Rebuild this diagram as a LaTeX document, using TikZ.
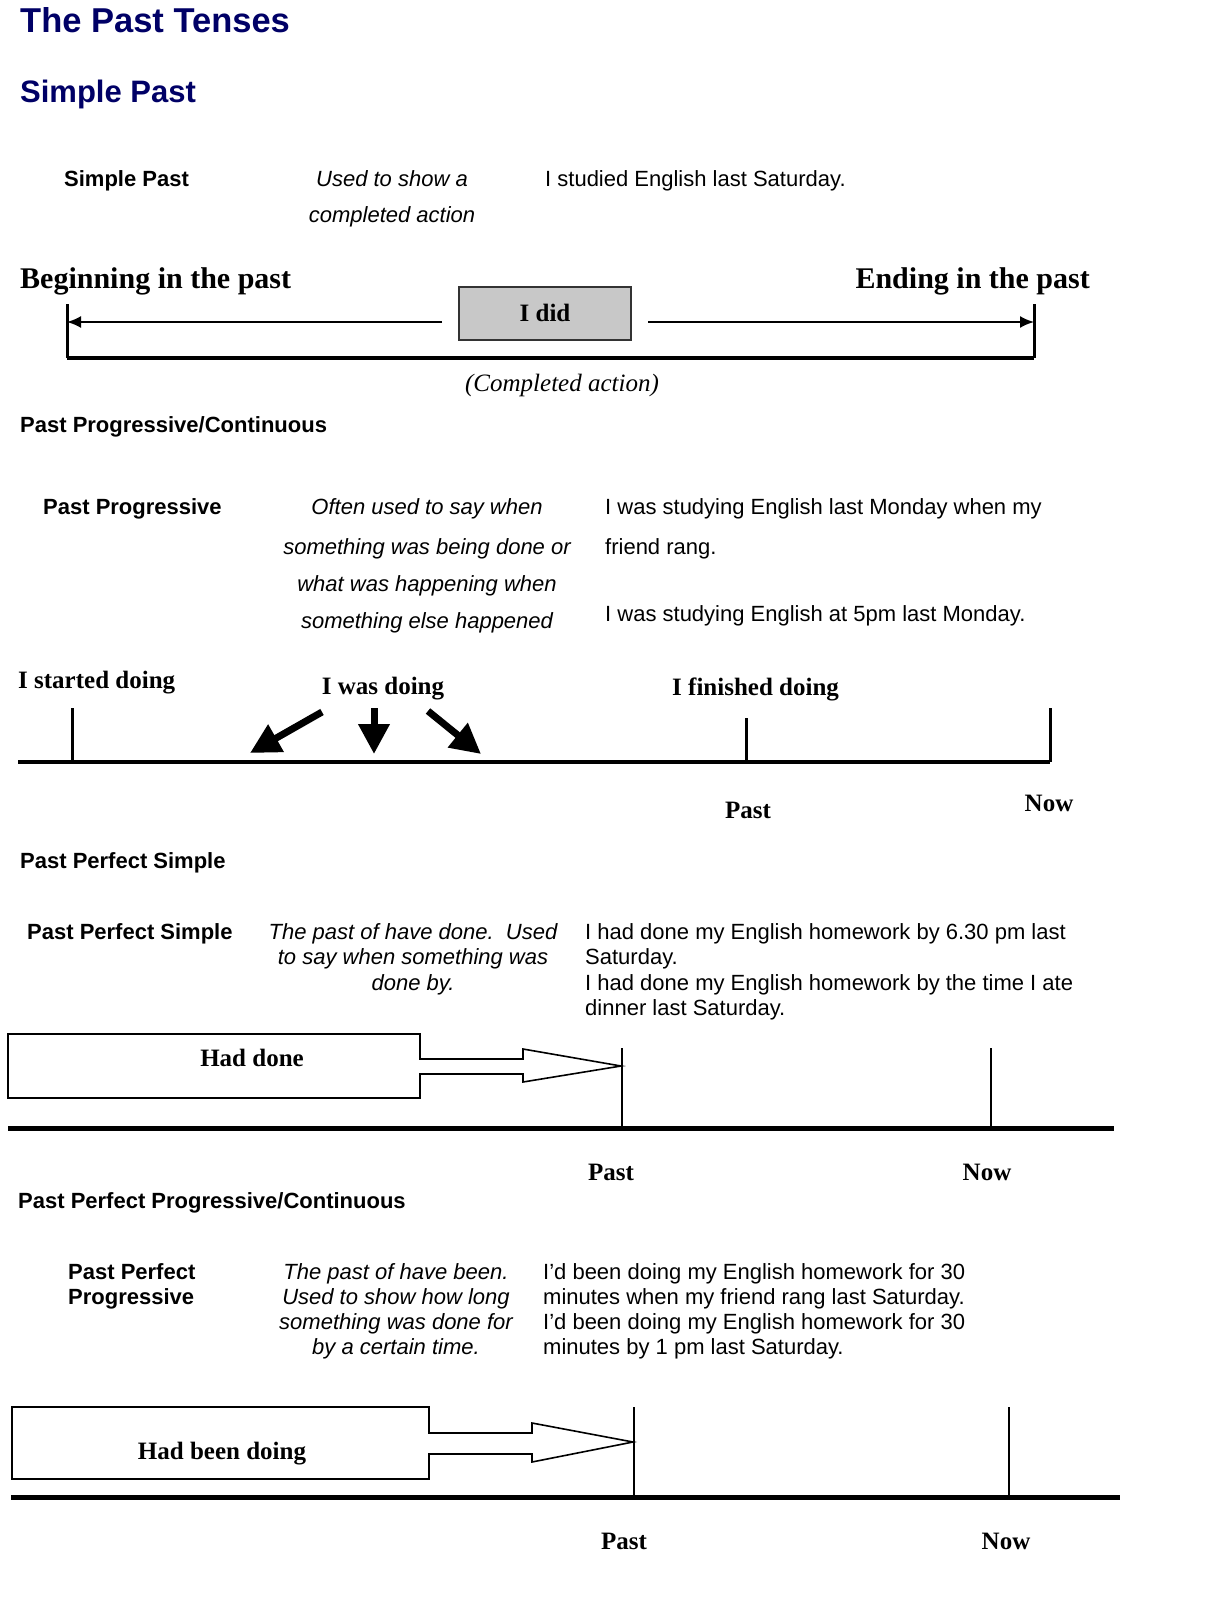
\documentclass[tikz,border=0pt]{standalone}
\usepackage{fontspec}
\setmainfont{Liberation Sans}
\newfontfamily\tlfont{Liberation Serif}
\usetikzlibrary{arrows.meta}
\definecolor{navy}{RGB}{0,0,102}
\definecolor{boxgray}{RGB}{200,200,200}
\tikzset{
  h1/.style={anchor=base west,inner sep=0,text=navy,font=\fontsize{34.5}{40}\selectfont\bfseries},
  h2/.style={anchor=base west,inner sep=0,text=navy,font=\fontsize{31}{36}\selectfont\bfseries},
  h3/.style={anchor=base west,inner sep=0,font=\fontsize{22}{26}\selectfont\bfseries},
  term/.style={anchor=base west,inner sep=0,font=\fontsize{22}{25}\selectfont\bfseries,align=left},
  usetxt/.style={anchor=base,inner sep=0,font=\fontsize{22}{26}\selectfont\itshape},
  extxt/.style={anchor=base west,inner sep=0,font=\fontsize{22}{26}\selectfont},
  tlbig/.style={anchor=base west,inner sep=0,font=\fontsize{30}{34}\tlfont\bfseries},
  tl/.style={anchor=base,inner sep=0,font=\fontsize{25}{30}\tlfont\bfseries},
  tlw/.style={anchor=base west,inner sep=0,font=\fontsize{25}{30}\tlfont\bfseries},
  thinarrow/.style={line width=2pt,-{Latex[length=14pt,width=12pt]}},
  bigarrow/.style={line width=7pt,-{Triangle[length=30pt,width=30pt]}},
  bar/.style={line width=3pt},
  axis/.style={line width=4pt},
  blockarrow/.style={draw,line width=1.6pt,fill=white},
}
\begin{document}
\begin{tikzpicture}[x=1pt,y=-1pt]
\useasboundingbox (0,0) rectangle (1207,1600);

% Headings
\node[h1] (title) at (20,33) {The Past Tenses};
\node[h2] (hsp) at (20,103) {Simple Past};

% Row 1
\node[term] (t1) at (64,186) {Simple Past};
\node[usetxt] (u1a) at (392,186) {Used to show a};
\node[usetxt] (u1b) at (392,222) {completed action};
\node[extxt] (e1) at (545,186) {I studied English last Saturday.};

% Diagram 1
\node[tlbig] (beg) at (20,288) {Beginning in the past};
\node[tlbig,anchor=base east] (end) at (1090,288) {Ending in the past};
\node[draw=black!80,line width=2pt,fill=boxgray,minimum width=172pt,minimum height=53pt,inner sep=0] (idid) at (545,313) {};
\node[tl] (ididt) at (545,321) {I did};
\coordinate (l1top) at (67,304);
\coordinate (l1bot) at (67,358);
\coordinate (r1top) at (1034,304);
\coordinate (r1bot) at (1034,358);
\coordinate (l1mid) at (67,322);
\coordinate (r1mid) at (1034,322);
\draw[bar] (l1top) -- (l1bot);
\draw[bar] (r1top) -- (r1bot);
\draw[axis] (l1bot) -- (r1bot);
\draw[thinarrow] ([xshift=-16pt]idid.west |- l1mid) -- (l1mid);
\draw[thinarrow] ([xshift=16pt]idid.east |- r1mid) -- (r1mid);
\node[anchor=base,inner sep=0,font=\fontsize{25}{30}\tlfont\itshape] (comp) at (562,391) {(Completed action)};

% Section 2
\node[h3] (hpp) at (20,432) {Past Progressive/Continuous};
\node[term] (t2) at (43,514) {Past Progressive};
\node[usetxt] (u2a) at (427,514) {Often used to say when};
\node[usetxt] (u2b) at (427,554) {something was being done or};
\node[usetxt] (u2c) at (427,591) {what was happening when};
\node[usetxt] (u2d) at (427,628) {something else happened};
\node[extxt] (e2a) at (605,514) {I was studying English last Monday when my};
\node[extxt] (e2b) at (605,554) {friend rang.};
\node[extxt] (e2c) at (605,621) {I was studying English at 5pm last Monday.};

% Diagram 2
\node[tlw] (start) at (18,688) {I started doing};
\node[tl] (wasdo) at (383,694) {I was doing};
\node[tlw] (fin) at (672,695) {I finished doing};
\coordinate (a2L) at (18,762);
\coordinate (a2R) at (1050,762);
\coordinate (k1t) at (72,708);
\coordinate (k1b) at (72,762);
\coordinate (k2t) at (746,718);
\coordinate (k2b) at (746,762);
\coordinate (k3t) at (1050,708);
\draw[axis] (a2L) -- (a2R);
\draw[bar] (k1t) -- (k1b);
\draw[bar] (k2t) -- (k2b);
\draw[bar] (k3t) -- (a2R);
\coordinate (d1s) at (322,712); \coordinate (d1e) at (250,753);
\coordinate (d2s) at (374,708); \coordinate (d2e) at (374,754);
\coordinate (d3s) at (428,711); \coordinate (d3e) at (481,754);
\draw[bigarrow] (d1s) -- (d1e);
\draw[bigarrow] (d2s) -- (d2e);
\draw[bigarrow] (d3s) -- (d3e);
\node[tl] (past2) at (748,818) {Past};
\node[tl] (now2) at (1049,811) {Now};

% Section 3
\node[h3] (hps) at (20,868) {Past Perfect Simple};
\node[term] (t3) at (27,939) {Past Perfect Simple};
\node[usetxt] (u3a) at (413,939) {The past of have done.\ \ Used};
\node[usetxt] (u3b) at (413,964) {to say when something was};
\node[usetxt] (u3c) at (413,990) {done by.};
\node[extxt] (e3a) at (585,939) {I had done my English homework by 6.30 pm last};
\node[extxt] (e3b) at (585,964) {Saturday.};
\node[extxt] (e3c) at (585,990) {I had done my English homework by the time I ate};
\node[extxt] (e3d) at (585,1015) {dinner last Saturday.};

% Diagram 3
\coordinate (a3L) at (8,1128);
\coordinate (a3R) at (1114,1128);
\coordinate (p3t) at (622,1048);
\coordinate (p3b) at (622,1128);
\coordinate (n3t) at (991,1048);
\coordinate (n3b) at (991,1128);
\draw[axis,line width=5pt] (a3L) -- (a3R);
\draw[bar,line width=2.5pt] (p3t) -- (p3b);
\draw[bar,line width=2.5pt] (n3t) -- (n3b);
\draw[blockarrow] (8,1034) -- (420,1034) -- (420,1059) -- (523,1059) -- (523,1049)
  -- (621,1066) -- (523,1082) -- (523,1074) -- (420,1074) -- (420,1098) -- (8,1098) -- cycle;
\node[tl] (had) at (252,1066) {Had done};
\node[tl] (past3) at (611,1180) {Past};
\node[tl] (now3) at (987,1180) {Now};

% Section 4
\node[h3] (hppp) at (18,1208) {Past Perfect Progressive/Continuous};
\node[term] (t4a) at (68,1279) {Past Perfect};
\node[term] (t4b) at (68,1304) {Progressive};
\node[usetxt] (u4a) at (396,1279) {The past of have been.};
\node[usetxt] (u4b) at (396,1304) {Used to show how long};
\node[usetxt] (u4c) at (396,1329) {something was done for};
\node[usetxt] (u4d) at (396,1354) {by a certain time.};
\node[extxt] (e4a) at (543,1279) {I'd been doing my English homework for 30};
\node[extxt] (e4b) at (543,1304) {minutes when my friend rang last Saturday.};
\node[extxt] (e4c) at (543,1329) {I'd been doing my English homework for 30};
\node[extxt] (e4d) at (543,1354) {minutes by 1 pm last Saturday.};

% Diagram 4
\coordinate (a4L) at (11,1497);
\coordinate (a4R) at (1120,1497);
\coordinate (p4t) at (634,1407);
\coordinate (p4b) at (634,1497);
\coordinate (n4t) at (1009,1407);
\coordinate (n4b) at (1009,1497);
\draw[axis,line width=5pt] (a4L) -- (a4R);
\draw[bar,line width=2.5pt] (p4t) -- (p4b);
\draw[bar,line width=2.5pt] (n4t) -- (n4b);
\draw[blockarrow] (12,1407) -- (429,1407) -- (429,1433) -- (532,1433) -- (532,1423)
  -- (633,1442) -- (532,1462) -- (532,1454) -- (429,1454) -- (429,1479) -- (12,1479) -- cycle;
\node[tl] (hbd) at (222,1459) {Had been doing};
\node[tl] (past4) at (624,1549) {Past};
\node[tl] (now4) at (1006,1549) {Now};
\end{tikzpicture}
\end{document}
